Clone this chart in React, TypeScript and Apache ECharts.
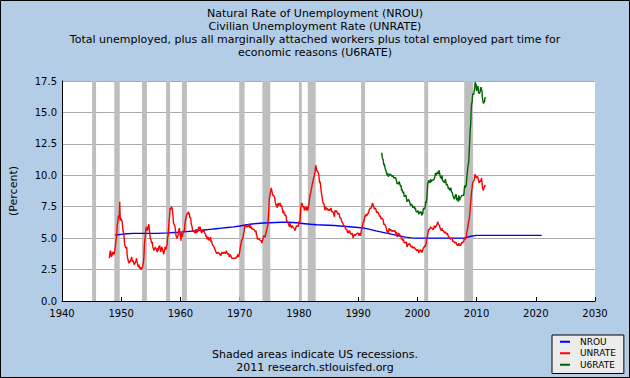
import React, { useEffect, useRef } from "react";
import * as echarts from "echarts";

const titleLines = [
  "Natural Rate of Unemployment (NROU)",
  "Civilian Unemployment Rate (UNRATE)",
  "Total unemployed, plus all marginally attached workers plus total employed part time for",
  "economic reasons (U6RATE)",
];
const footerLines = ["Shaded areas indicate US recessions.", "2011 research.stlouisfed.org"];
const seriesNames = ["NROU", "UNRATE", "U6RATE"];
const seriesColors = ["#0000ff", "#ff0000", "#006400"];
const yAxisName = "(Percent)";

// Civilian unemployment rate, monthly from Jan 1948
const unrateStartYear = 1948;
const unrate = [
  3.4, 3.8, 4.0, 3.9, 3.5, 3.6, 3.6, 3.9, 3.8, 3.7, 3.8, 4.0,
  4.3, 4.7, 5.0, 5.3, 6.1, 6.2, 6.7, 6.8, 6.6, 7.9, 6.4, 6.6,
  6.5, 6.4, 6.3, 5.8, 5.5, 5.4, 5.0, 4.5, 4.4, 4.2, 4.2, 4.3,
  3.7, 3.4, 3.4, 3.1, 3.0, 3.2, 3.1, 3.1, 3.3, 3.5, 3.5, 3.1,
  3.2, 3.1, 2.9, 2.9, 3.0, 3.0, 3.2, 3.4, 3.1, 3.0, 2.8, 2.7,
  2.9, 2.6, 2.6, 2.7, 2.5, 2.5, 2.6, 2.7, 2.9, 3.1, 3.5, 4.5,
  4.9, 5.2, 5.7, 5.9, 5.9, 5.6, 5.8, 6.0, 6.1, 5.7, 5.3, 5.0,
  4.9, 4.7, 4.6, 4.7, 4.3, 4.2, 4.0, 4.2, 4.1, 4.3, 4.2, 4.2,
  4.0, 3.9, 4.2, 4.0, 4.3, 4.3, 4.4, 4.1, 3.9, 3.9, 4.3, 4.2,
  4.2, 3.9, 3.7, 3.9, 4.1, 4.3, 4.2, 4.1, 4.4, 4.5, 5.1, 5.2,
  5.8, 6.4, 6.7, 7.4, 7.4, 7.3, 7.5, 7.4, 7.1, 6.7, 6.2, 6.2,
  6.0, 5.9, 5.6, 5.2, 5.1, 5.0, 5.1, 5.2, 5.5, 5.7, 5.8, 5.3,
  5.2, 4.8, 5.4, 5.2, 5.1, 5.4, 5.5, 5.6, 5.5, 6.1, 6.1, 6.6,
  6.6, 6.9, 6.9, 7.0, 7.1, 6.9, 7.0, 6.6, 6.7, 6.5, 6.1, 6.0,
  5.8, 5.5, 5.6, 5.6, 5.5, 5.5, 5.4, 5.7, 5.6, 5.4, 5.7, 5.5,
  5.7, 5.9, 5.7, 5.7, 5.9, 5.6, 5.6, 5.4, 5.5, 5.5, 5.7, 5.5,
  5.6, 5.4, 5.4, 5.3, 5.1, 5.2, 4.9, 5.0, 5.1, 5.1, 4.8, 5.0,
  4.9, 5.1, 4.7, 4.8, 4.6, 4.6, 4.4, 4.4, 4.3, 4.2, 4.1, 4.0,
  4.0, 3.8, 3.8, 3.8, 3.9, 3.8, 3.8, 3.8, 3.7, 3.7, 3.6, 3.8,
  3.9, 3.8, 3.8, 3.8, 3.8, 3.9, 3.8, 3.8, 3.8, 4.0, 3.9, 3.8,
  3.7, 3.8, 3.7, 3.5, 3.5, 3.7, 3.7, 3.5, 3.4, 3.4, 3.4, 3.4,
  3.4, 3.4, 3.4, 3.4, 3.4, 3.5, 3.5, 3.5, 3.7, 3.7, 3.5, 3.5,
  3.9, 4.2, 4.4, 4.6, 4.8, 4.9, 5.0, 5.1, 5.4, 5.5, 5.9, 6.1,
  5.9, 5.9, 6.0, 5.9, 5.9, 5.9, 6.0, 6.1, 6.0, 5.8, 6.0, 6.0,
  5.8, 5.7, 5.8, 5.7, 5.7, 5.7, 5.6, 5.6, 5.5, 5.6, 5.3, 5.2,
  4.9, 5.0, 4.9, 5.0, 4.9, 4.9, 4.8, 4.8, 4.8, 4.6, 4.8, 4.9,
  5.1, 5.2, 5.1, 5.1, 5.1, 5.4, 5.5, 5.5, 5.9, 6.0, 6.6, 7.2,
  8.1, 8.1, 8.6, 8.8, 9.0, 8.8, 8.6, 8.4, 8.4, 8.4, 8.3, 8.2,
  7.9, 7.7, 7.6, 7.7, 7.4, 7.6, 7.8, 7.8, 7.6, 7.7, 7.8, 7.8,
  7.5, 7.6, 7.4, 7.2, 7.0, 7.2, 6.9, 7.0, 6.8, 6.8, 6.8, 6.4,
  6.4, 6.3, 6.3, 6.1, 6.0, 5.9, 6.2, 5.9, 6.0, 5.8, 5.9, 6.0,
  5.9, 5.9, 5.8, 5.8, 5.6, 5.7, 5.7, 6.0, 5.9, 6.0, 5.9, 6.0,
  6.3, 6.3, 6.3, 6.9, 7.5, 7.6, 7.8, 7.7, 7.5, 7.5, 7.5, 7.2,
  7.5, 7.4, 7.4, 7.2, 7.5, 7.5, 7.2, 7.4, 7.6, 7.9, 8.3, 8.5,
  8.6, 8.9, 9.0, 9.3, 9.4, 9.6, 9.8, 9.8, 10.1, 10.4, 10.8, 10.8,
  10.4, 10.4, 10.3, 10.2, 10.1, 10.1, 9.4, 9.5, 9.2, 8.8, 8.5, 8.3,
  8.0, 7.8, 7.8, 7.7, 7.4, 7.2, 7.5, 7.5, 7.3, 7.4, 7.2, 7.3,
  7.3, 7.2, 7.2, 7.3, 7.2, 7.4, 7.4, 7.1, 7.1, 7.1, 7.0, 7.0,
  6.7, 7.2, 7.2, 7.1, 7.2, 7.2, 7.0, 6.9, 7.0, 7.0, 6.9, 6.6,
  6.6, 6.6, 6.6, 6.3, 6.3, 6.2, 6.1, 6.0, 5.9, 6.0, 5.8, 5.7,
  5.7, 5.7, 5.7, 5.4, 5.6, 5.4, 5.4, 5.6, 5.4, 5.4, 5.3, 5.3,
  5.4, 5.2, 5.0, 5.2, 5.2, 5.3, 5.2, 5.2, 5.3, 5.3, 5.4, 5.4,
  5.4, 5.3, 5.2, 5.4, 5.4, 5.2, 5.5, 5.7, 5.9, 5.9, 6.2, 6.3,
  6.4, 6.6, 6.8, 6.7, 6.9, 6.9, 6.8, 6.9, 6.9, 7.0, 7.0, 7.3,
  7.3, 7.4, 7.4, 7.4, 7.6, 7.8, 7.7, 7.6, 7.6, 7.3, 7.4, 7.4,
  7.3, 7.1, 7.0, 7.1, 7.1, 7.0, 6.9, 6.8, 6.7, 6.8, 6.6, 6.5,
  6.6, 6.6, 6.5, 6.4, 6.1, 6.1, 6.1, 6.0, 5.9, 5.8, 5.6, 5.5,
  5.6, 5.4, 5.4, 5.8, 5.6, 5.6, 5.7, 5.7, 5.6, 5.5, 5.6, 5.6,
  5.6, 5.5, 5.5, 5.6, 5.6, 5.3, 5.5, 5.1, 5.2, 5.2, 5.4, 5.4,
  5.3, 5.2, 5.2, 5.1, 4.9, 5.0, 4.9, 4.8, 4.9, 4.7, 4.6, 4.7,
  4.6, 4.6, 4.7, 4.3, 4.4, 4.5, 4.5, 4.5, 4.6, 4.5, 4.4, 4.4,
  4.3, 4.4, 4.2, 4.3, 4.2, 4.3, 4.3, 4.2, 4.2, 4.1, 4.1, 4.0,
  4.0, 4.1, 4.0, 3.8, 4.0, 4.0, 4.0, 4.1, 3.9, 3.9, 3.9, 3.9,
  4.2, 4.2, 4.3, 4.4, 4.3, 4.5, 4.6, 4.9, 5.0, 5.3, 5.5, 5.7,
  5.7, 5.7, 5.7, 5.9, 5.8, 5.8, 5.8, 5.7, 5.7, 5.7, 5.9, 6.0,
  5.8, 5.9, 5.9, 6.0, 6.1, 6.3, 6.2, 6.1, 6.1, 6.0, 5.8, 5.7,
  5.7, 5.6, 5.8, 5.6, 5.6, 5.6, 5.5, 5.4, 5.4, 5.5, 5.4, 5.4,
  5.3, 5.4, 5.2, 5.2, 5.1, 5.0, 5.0, 4.9, 5.0, 5.0, 5.0, 4.9,
  4.7, 4.8, 4.7, 4.7, 4.6, 4.6, 4.7, 4.7, 4.5, 4.4, 4.5, 4.4,
  4.6, 4.5, 4.4, 4.5, 4.4, 4.6, 4.7, 4.6, 4.7, 4.7, 4.7, 5.0,
  5.0, 4.9, 5.1, 5.0, 5.4, 5.6, 5.8, 6.1, 6.1, 6.5, 6.8, 7.3,
  7.8, 8.3, 8.7, 9.0, 9.4, 9.5, 9.5, 9.6, 9.8, 10.1, 9.9, 9.9,
  9.8, 9.8, 9.9, 9.9, 9.6, 9.4, 9.4, 9.5, 9.6, 9.5, 9.8, 9.4,
  9.0, 8.9, 8.8, 9.0, 9.1, 9.2, 9.1,
];

// U-6 rate, monthly from Jan 1994
const u6StartYear = 1994;
const u6rate = [
  11.8, 11.4, 11.4, 11.2, 10.8, 10.9, 10.7, 10.5, 10.4, 10.3, 10.1, 10.0,
  10.2, 9.9, 9.9, 10.0, 10.0, 10.1, 10.1, 10.0, 10.0, 9.9, 10.0, 10.0,
  9.8, 9.8, 9.8, 9.8, 9.8, 9.7, 9.7, 9.3, 9.4, 9.4, 9.3, 9.5,
  9.4, 9.4, 9.1, 9.2, 8.8, 8.9, 8.7, 8.6, 8.7, 8.4, 8.3, 8.4,
  8.4, 8.4, 8.4, 7.9, 7.9, 8.0, 8.1, 8.1, 7.9, 7.8, 7.6, 7.6,
  7.7, 7.7, 7.6, 7.4, 7.5, 7.5, 7.5, 7.3, 7.4, 7.2, 7.1, 7.1,
  7.1, 7.2, 7.1, 6.9, 7.1, 7.0, 7.0, 7.1, 7.0, 6.8, 7.1, 6.9,
  7.3, 7.4, 7.3, 7.4, 7.5, 7.9, 7.8, 8.1, 8.7, 9.3, 9.4, 9.6,
  9.5, 9.5, 9.4, 9.7, 9.5, 9.5, 9.6, 9.6, 9.6, 9.6, 9.7, 9.8,
  10.0, 10.2, 10.0, 10.2, 10.1, 10.3, 10.3, 10.1, 10.4, 10.2, 10.0, 9.8,
  9.9, 9.7, 10.0, 9.6, 9.6, 9.5, 9.5, 9.4, 9.4, 9.7, 9.4, 9.2,
  9.3, 9.3, 9.1, 8.9, 8.9, 9.0, 8.8, 8.9, 9.0, 8.7, 8.7, 8.6,
  8.4, 8.4, 8.2, 8.1, 8.2, 8.4, 8.5, 8.4, 8.0, 8.2, 8.1, 7.9,
  8.4, 8.2, 8.0, 8.2, 8.2, 8.3, 8.4, 8.4, 8.4, 8.4, 8.4, 8.8,
  9.2, 9.0, 9.1, 9.2, 9.7, 10.1, 10.5, 10.8, 11.0, 11.8, 12.6, 13.6,
  14.0, 15.1, 15.7, 15.8, 16.4, 16.5, 16.4, 16.7, 16.8, 17.4, 17.2, 17.3,
  16.7, 16.9, 16.9, 17.1, 16.6, 16.5, 16.5, 16.6, 16.9, 17.0, 17.0, 16.7,
  16.1, 15.9, 15.7, 15.9, 15.8, 16.2, 16.1,
];

// Natural rate of unemployment, yearly from 1949
const nrouStartYear = 1949;
const nrou = [
  5.25, 5.3, 5.35, 5.38, 5.38, 5.38, 5.38, 5.38, 5.4, 5.42,
  5.45, 5.48, 5.52, 5.56, 5.6, 5.65, 5.7, 5.75, 5.8, 5.85,
  5.9, 5.97, 6.05, 6.12, 6.17, 6.2, 6.22, 6.24, 6.26, 6.26,
  6.24, 6.2, 6.15, 6.1, 6.06, 6.04, 6.02, 6.0, 5.97, 5.93,
  5.89, 5.85, 5.8, 5.7, 5.58, 5.48, 5.38, 5.28, 5.17, 5.08,
  5.02, 5.0, 5.0, 5.0, 5.0, 5.0, 5.0, 5.0, 5.0, 5.0,
  5.15, 5.22, 5.22, 5.22, 5.22, 5.22, 5.22, 5.22, 5.22, 5.22,
  5.22, 5.22, 5.22,
];

// NBER recessions, peak month to trough month
const recessions: [string, string][] = [
  ["1945-02", "1945-10"],
  ["1948-11", "1949-10"],
  ["1953-07", "1954-05"],
  ["1957-08", "1958-04"],
  ["1960-04", "1961-02"],
  ["1969-12", "1970-11"],
  ["1973-11", "1975-03"],
  ["1980-01", "1980-07"],
  ["1981-07", "1982-11"],
  ["1990-07", "1991-03"],
  ["2001-03", "2001-11"],
  ["2007-12", "2009-06"],
];

const xMin = 1940;
const xMax = 2030;
const xStep = 10;
const yMin = 0;
const yMax = 17.5;
const yStep = 2.5;

const toYear = (s: string) => {
  const [y, m] = s.split("-").map(Number);
  return y + (m - 1) / 12;
};

const FONT = "DejaVu Sans";

export default function App() {
  const ref = useRef<HTMLDivElement>(null);

  useEffect(() => {
    document.body.style.margin = "0";
    if (!ref.current) return;
    const chart = echarts.init(ref.current, undefined, { renderer: "svg" });

    const unrateData = unrate.map((v, i) => [unrateStartYear + i / 12, v]);
    const u6Data = u6rate.map((v, i) => [u6StartYear + i / 12, v]);
    const nrouData = nrou.map((v, i) => [nrouStartYear + i, v]);
    const dataSets = [nrouData, unrateData, u6Data];

    const txt = { fontFamily: FONT, color: "#000", fontWeight: "normal" as const };

    chart.setOption({
      animation: false,
      backgroundColor: "#b4cde6",
      textStyle: { fontFamily: FONT },
      title: [
        {
          text: titleLines.join("\n"),
          left: "center",
          top: 7,
          padding: [0, 0, 0, 4],
          textStyle: { ...txt, fontSize: 11, lineHeight: 13 },
        },
        {
          text: footerLines.join("\n"),
          left: "center",
          top: 348,
          padding: [0, 0, 0, 4],
          textStyle: { ...txt, fontSize: 11, lineHeight: 13 },
        },
      ],
      legend: {
        data: seriesNames,
        orient: "vertical",
        left: 552,
        top: 335,
        backgroundColor: "#ececec",
        borderColor: "#000",
        borderWidth: 1,
        borderRadius: 0,
        padding: [1, 8, 3, 8],
        itemGap: 0,
        itemWidth: 10,
        itemHeight: 2,
        icon: "rect",
        selectedMode: false,
        textStyle: { ...txt, fontSize: 9, lineHeight: 11.5, padding: [0, 0, 0, 5] },
      },
      grid: {
        left: 59,
        top: 81,
        width: 536,
        height: 220,
        containLabel: false,
        show: true,
        backgroundColor: "#ffffff",
        borderWidth: 0,
      },
      xAxis: {
        type: "value",
        min: xMin,
        max: xMax,
        interval: xStep,
        axisLine: { show: true, lineStyle: { color: "#000", width: 1 } },
        axisTick: { show: true, inside: true, length: 4, lineStyle: { color: "#000" } },
        axisLabel: { ...txt, fontSize: 10, margin: 7, formatter: (v: number) => String(v) },
        splitLine: { show: false },
      },
      yAxis: {
        type: "value",
        min: yMin,
        max: yMax,
        interval: yStep,
        name: yAxisName,
        nameLocation: "middle",
        nameGap: 43,
        nameRotate: 90,
        nameTextStyle: { ...txt, fontSize: 11 },
        axisLine: { show: true, lineStyle: { color: "#000", width: 1 } },
        axisTick: { show: false },
        axisLabel: { ...txt, fontSize: 10, margin: 5, formatter: (v: number) => v.toFixed(1) },
        splitLine: { show: true, lineStyle: { color: "#aaaaaa", width: 1 } },
      },
      graphic: [
        {
          type: "rect",
          silent: true,
          z: 100,
          shape: { x: 0.5, y: 0.5, width: 629, height: 377 },
          style: { fill: "none", stroke: "#000", lineWidth: 1 },
        },
      ],
      series: [
        {
          type: "line",
          name: "recessions",
          data: [],
          z: 1,
          silent: true,
          markArea: {
            silent: true,
            itemStyle: { color: "#bebebe", opacity: 1 },
            data: recessions.map(([a, b]) => [{ xAxis: toYear(a) }, { xAxis: toYear(b) }]),
          },
        },
        ...seriesNames.map((name, i) => ({
          type: "line",
          name,
          data: dataSets[i],
          z: 3 + i,
          showSymbol: false,
          symbol: "none",
          lineStyle: { color: seriesColors[i], width: 1.4 },
          itemStyle: { color: seriesColors[i] },
        })),
      ],
    });

    return () => chart.dispose();
  }, []);

  return (
    <div style={{ position: "absolute", left: 0, top: 0, width: 630, height: 378 }}>
      <div ref={ref} style={{ width: 630, height: 378 }} />
    </div>
  );
}
